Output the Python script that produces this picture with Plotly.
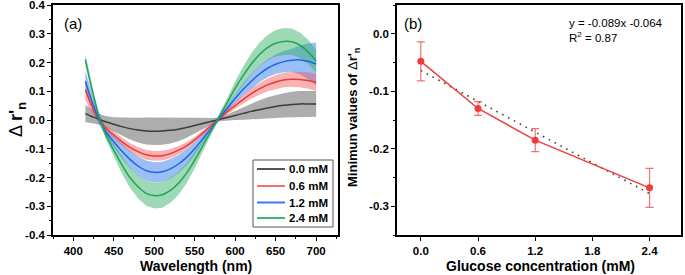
import plotly.graph_objects as go

# ---------------- Panel (a) data ----------------
wavelength = [415, 420, 425, 430, 435, 440, 450, 460, 470, 480, 490, 500, 510, 520, 530, 540,
              550, 560, 570, 580, 590, 600, 610, 620, 630, 640, 650, 660, 670, 680, 690, 700]

y_00 = [0.022, 0.016, 0.010, 0.005, -0.001, -0.006, -0.015, -0.023, -0.030, -0.035, -0.038, -0.039,
        -0.038, -0.036, -0.032, -0.026, -0.019, -0.012, -0.005, 0.002, 0.009, 0.016, 0.023, 0.030,
        0.036, 0.042, 0.047, 0.051, 0.054, 0.056, 0.056, 0.056]
e_00 = [0.030, 0.027, 0.022, 0.020, 0.019, 0.020, 0.025, 0.032, 0.038, 0.043, 0.047, 0.048,
        0.048, 0.046, 0.042, 0.036, 0.028, 0.020, 0.012, 0.006, 0.010, 0.016, 0.022, 0.028,
        0.033, 0.037, 0.040, 0.042, 0.044, 0.045, 0.045, 0.045]

y_06 = [0.105, 0.068, 0.037, 0.011, -0.010, -0.028, -0.052, -0.075, -0.095, -0.110, -0.121, -0.125,
        -0.124, -0.117, -0.105, -0.090, -0.069, -0.045, -0.020, 0.003, 0.028, 0.050, 0.072, 0.092,
        0.108, 0.122, 0.132, 0.139, 0.142, 0.141, 0.137, 0.131]
e_06 = [0.035, 0.028, 0.020, 0.014, 0.010, 0.010, 0.012, 0.014, 0.015, 0.016, 0.017, 0.017,
        0.017, 0.016, 0.015, 0.013, 0.011, 0.009, 0.007, 0.007, 0.009, 0.012, 0.015, 0.018,
        0.020, 0.022, 0.024, 0.025, 0.026, 0.027, 0.028, 0.030]

y_12 = [0.135, 0.090, 0.050, 0.013, -0.015, -0.040, -0.075, -0.108, -0.137, -0.160, -0.176, -0.182,
        -0.180, -0.170, -0.153, -0.130, -0.100, -0.065, -0.030, 0.005, 0.040, 0.075, 0.107, 0.135,
        0.160, 0.180, 0.194, 0.203, 0.208, 0.209, 0.204, 0.195]
e_12 = [0.035, 0.030, 0.024, 0.018, 0.015, 0.015, 0.020, 0.026, 0.030, 0.033, 0.035, 0.035,
        0.035, 0.034, 0.031, 0.027, 0.022, 0.016, 0.010, 0.008, 0.012, 0.017, 0.022, 0.026,
        0.029, 0.031, 0.034, 0.037, 0.040, 0.050, 0.062, 0.075]

y_24 = [0.210, 0.145, 0.085, 0.030, -0.015, -0.050, -0.105, -0.155, -0.200, -0.232, -0.255, -0.263,
        -0.260, -0.245, -0.220, -0.185, -0.140, -0.090, -0.040, 0.010, 0.060, 0.110, 0.155, 0.195,
        0.228, 0.252, 0.267, 0.273, 0.272, 0.260, 0.237, 0.205]
e_24 = [0.020, 0.018, 0.016, 0.014, 0.013, 0.015, 0.022, 0.030, 0.036, 0.040, 0.043, 0.045,
        0.045, 0.043, 0.040, 0.035, 0.028, 0.020, 0.012, 0.010, 0.016, 0.024, 0.031, 0.037,
        0.041, 0.044, 0.046, 0.047, 0.046, 0.044, 0.042, 0.040]

series_names = ["0.0 mM", "0.6 mM", "1.2 mM", "2.4 mM"]

# ---------------- Panel (b) data ----------------
glucose = [0.0, 0.6, 1.2, 2.4]
min_vals = [-0.048, -0.130, -0.185, -0.268]
min_err = [0.034, 0.012, 0.020, 0.034]
fit_x = [0.0, 2.4]
fit_y = [-0.064, -0.278]

a_xticks = [400, 450, 500, 550, 600, 650, 700]
a_yticks = [0.4, 0.3, 0.2, 0.1, 0.0, -0.1, -0.2, -0.3, -0.4]
a_yticktext = ["0.4", "0.3", "0.2", "0.1", "0.0", "-0.1", "-0.2", "-0.3", "-0.4"]
b_xticks = [0.0, 0.6, 1.2, 1.8, 2.4]
b_xticktext = ["0.0", "0.6", "1.2", "1.8", "2.4"]
b_yticks = [0.0, -0.1, -0.2, -0.3]
b_yticktext = ["0.0", "-0.1", "-0.2", "-0.3"]

line_colors = ["#3c3c3c", "#e83a3a", "#1f66e0", "#21a35e"]
band_colors = ["rgba(105,105,105,0.55)", "rgba(240,85,85,0.45)",
               "rgba(55,125,240,0.50)", "rgba(50,175,100,0.48)"]
legend_colors = ["#555555", "#f07070", "#3a7de8", "#3cb878"]

ys = [y_00, y_06, y_12, y_24]
es = [e_00, e_06, e_12, e_24]

# layout geometry (pixels)
W, H = 685, 275
ML, MR, MT, MB = 53, 4, 5, 40
PW, PH = W - ML - MR, H - MT - MB


def px(xp):
    return (xp - ML) / PW


def py(yp):
    return (H - MB - yp) / PH


fig = go.Figure()

# bands (draw order: black, blue, red, green)
for i in [0, 2, 1, 3]:
    up = [v + e for v, e in zip(ys[i], es[i])]
    lo = [v - e for v, e in zip(ys[i], es[i])]
    fig.add_trace(go.Scatter(
        x=wavelength + wavelength[::-1], y=up + lo[::-1],
        fill="toself", fillcolor=band_colors[i], mode="lines",
        line=dict(width=0, color=band_colors[i]), hoverinfo="skip",
        showlegend=False, xaxis="x", yaxis="y"))

for i in range(4):
    fig.add_trace(go.Scatter(
        x=wavelength, y=ys[i], mode="lines", name=series_names[i],
        line=dict(color=line_colors[i], width=1.5, shape="spline"),
        showlegend=False, xaxis="x", yaxis="y"))

# panel b
fig.add_trace(go.Scatter(
    x=fit_x, y=fit_y, mode="lines", line=dict(color="#444444", width=1.6, dash="1.6px,5px"),
    showlegend=False, xaxis="x2", yaxis="y2"))
fig.add_trace(go.Scatter(
    x=glucose, y=min_vals, mode="lines+markers",
    line=dict(color="#f03c3c", width=1.5),
    marker=dict(color="#f03c3c", size=7),
    error_y=dict(type="data", array=min_err, color="rgba(235,90,90,0.85)", thickness=1.2, width=4),
    showlegend=False, xaxis="x2", yaxis="y2"))

tickfont = dict(family="Liberation Sans", size=11.5, color="black", weight="bold")
titlefont = dict(family="Liberation Sans", size=14, color="black", weight="bold")
axcommon = dict(showline=True, linecolor="black", linewidth=1.5, mirror=True,
                ticks="outside", tickcolor="black", ticklen=4, tickwidth=1.2,
                showgrid=False, zeroline=False, tickfont=tickfont, automargin=False,
                ticklabeloverflow="allow")

# manual legend
shapes = [dict(type="rect", xref="paper", yref="paper", x0=px(253), x1=px(333), y0=py(227), y1=py(160),
               line=dict(color="#555555", width=1), fillcolor="white", layer="above")]
annotations = []
legend_rows = [169, 186, 202.5, 218]
for i in range(4):
    shapes.append(dict(type="line", xref="paper", yref="paper", x0=px(257), x1=px(285),
                       y0=py(legend_rows[i]), y1=py(legend_rows[i]),
                       line=dict(color=legend_colors[i], width=2), layer="above"))
    annotations.append(dict(text=series_names[i], x=px(287), y=py(legend_rows[i]), xref="paper", yref="paper",
                            xanchor="left", yanchor="middle", showarrow=False,
                            font=dict(family="Liberation Sans", size=11.5, color="black", weight="bold")))

annotations += [
    dict(text="(a)", x=px(62), y=py(13), xref="paper", yref="paper", xanchor="left", yanchor="top",
         showarrow=False, font=dict(family="Liberation Sans", size=15, color="black")),
    dict(text="(b)", x=px(402), y=py(13), xref="paper", yref="paper", xanchor="left", yanchor="top",
         showarrow=False, font=dict(family="Liberation Sans", size=15, color="black")),
    dict(text="y = -0.089x -0.064<br>R<sup>2</sup> = 0.87", x=px(567), y=py(15), xref="paper",
         yref="paper", xanchor="left", yanchor="top", align="left", showarrow=False,
         font=dict(family="Liberation Sans", size=11.5, color="black")),
    dict(text="Wavelength (nm)", x=px(196), y=py(266), xref="paper", yref="paper",
         xanchor="center", yanchor="middle", showarrow=False, font=titlefont),
    dict(text="Glucose concentration (mM)", x=px(540), y=py(266), xref="paper", yref="paper",
         xanchor="center", yanchor="middle", showarrow=False, font=titlefont),
    dict(text="Δ <b>r'</b><sub><b>n</b></sub>", x=px(17), y=py(120), xref="paper", yref="paper",
         xanchor="center", yanchor="middle", textangle=-90, showarrow=False,
         font=dict(family="Liberation Sans", size=18, color="black")),
    dict(text="<b>Minimun values of </b>Δ<b>r'</b><sub><b>n</b></sub>", x=px(353), y=py(118),
         xref="paper", yref="paper", xanchor="center", yanchor="middle", textangle=-90, showarrow=False,
         font=dict(family="Liberation Sans", size=13, color="black")),
]

fig.update_layout(
    width=W, height=H,
    margin=dict(l=ML, r=MR, t=MT, b=MB),
    plot_bgcolor="white", paper_bgcolor="white",
    showlegend=False,
    xaxis=dict(domain=[0, px(338)], range=[375, 727], tickvals=a_xticks,
               minor=dict(dtick=25, ticks="outside", ticklen=2, tickcolor="black"), **axcommon),
    yaxis=dict(range=[-0.4, 0.4], tickvals=a_yticks, ticktext=a_yticktext,
               minor=dict(dtick=0.05, ticks="outside", ticklen=2, tickcolor="black"), **axcommon),
    xaxis2=dict(domain=[px(397), 1], range=[-0.25, 2.73], tickvals=b_xticks, ticktext=b_xticktext,
                anchor="y2", **axcommon),
    yaxis2=dict(range=[-0.35, 0.05], tickvals=b_yticks, ticktext=b_yticktext, anchor="x2",
                minor=dict(dtick=0.05, ticks="outside", ticklen=2, tickcolor="black"), **axcommon),
    shapes=shapes,
    annotations=annotations,
)

fig.write_html("out.html", config={"displayModeBar": False},
               post_script="document.body.style.margin='0';document.body.style.padding='0';")
